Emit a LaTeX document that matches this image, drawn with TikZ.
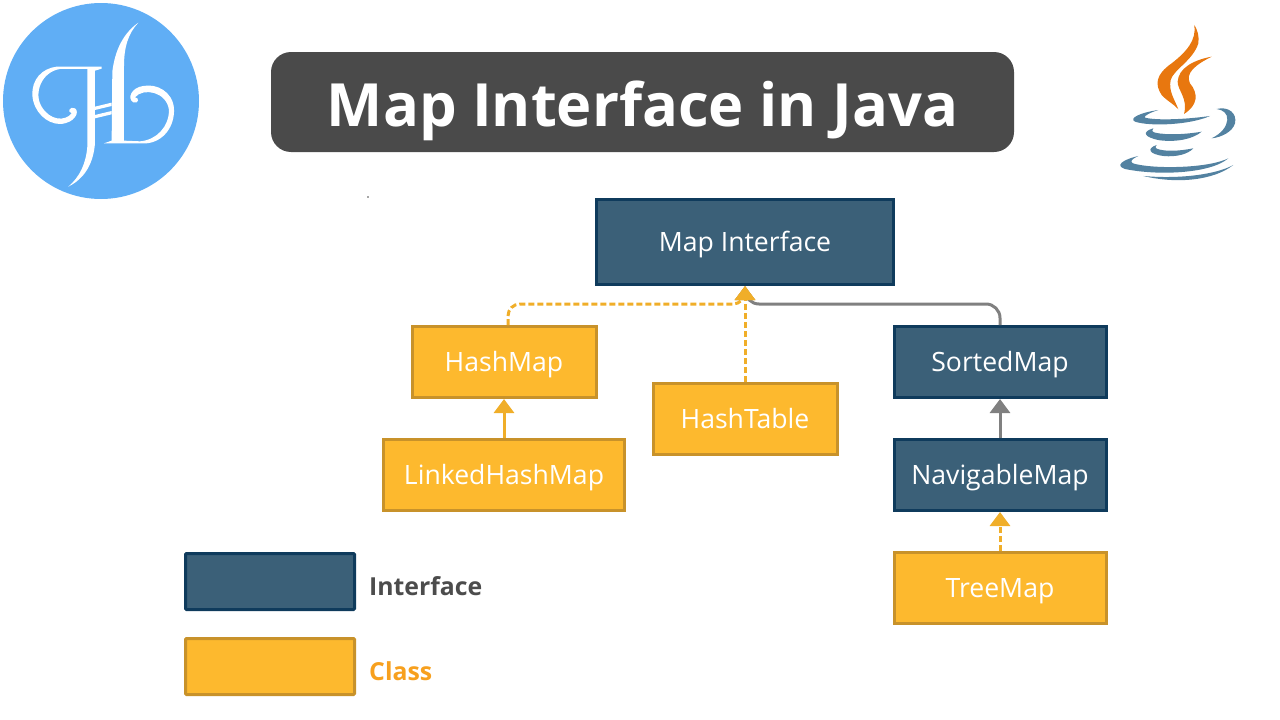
\documentclass[tikz,border=0pt]{standalone}
\usepackage{fontspec}
\setmainfont{Open Sans}
\usetikzlibrary{arrows.meta}
\definecolor{ifblue}{HTML}{3B6078}
\definecolor{ifedge}{HTML}{0F3B5C}
\definecolor{clsfill}{HTML}{FDB92E}
\definecolor{clsedge}{HTML}{C8922A}
\definecolor{clsarrow}{HTML}{F0AE29}
\definecolor{inharrow}{HTML}{808080}
\definecolor{logoblue}{HTML}{60AEF5}
\definecolor{cupblue}{HTML}{5382A1}
\definecolor{flame}{HTML}{E8770F}
\definecolor{keyorange}{HTML}{F7A01E}
\tikzset{
  ifbox/.style={draw=ifedge,fill=ifblue,line width=3pt,text=white,minimum height=70pt,text height=25pt,text depth=6pt,font=\fontsize{26.6}{28}\selectfont},
  clsbox/.style={draw=clsedge,fill=clsfill,line width=3pt,text=white,minimum height=70pt,text height=25pt,text depth=6pt,font=\fontsize{26.6}{28}\selectfont},
  keybox/.style={line width=3pt,minimum width=169pt,minimum height=56pt,rounded corners=1pt},
  implarrow/.style={draw=clsarrow,line width=3pt,dash pattern=on 6pt off 3pt,-{Triangle[length=14pt,width=20pt,fill=clsarrow]}},
  extarrow/.style={draw=clsarrow,line width=3pt,-{Triangle[length=14pt,width=20pt,fill=clsarrow]}},
  greyarrow/.style={draw=inharrow,line width=3pt,-{Triangle[length=14pt,width=20pt,fill=inharrow]}},
}
\begin{document}
\begin{tikzpicture}[x=1pt,y=-1pt]
\useasboundingbox (0,0) rectangle (1280,720);
% logo
\fill[logoblue] (101,101) circle (98);
\begin{scope}[x=0.3333pt,y=-0.3333pt,fill=white]
\fill (415,68) .. controls (370,100) and (345,150) .. (337,215) -- (335,422) -- (312,430) -- (440,430)
  .. controls (490,425) and (525,380) .. (522,325) .. controls (518,275) and (470,250) .. (430,258)
  .. controls (395,262) and (380,295) .. (400,307) .. controls (418,312) and (418,292) .. (405,292)
  .. controls (430,262) and (500,275) .. (507,330) .. controls (507,380) and (470,420) .. (420,424)
  -- (372,422) -- (372,200) .. controls (372,140) and (385,100) .. (415,68) -- cycle;
\fill (305,200) -- (170,200) .. controls (125,205) and (95,240) .. (97,285)
  .. controls (100,335) and (140,372) .. (180,372) .. controls (225,370) and (240,335) .. (225,325)
  .. controls (210,318) and (200,335) .. (215,340) .. controls (195,365) and (150,362) .. (125,320)
  .. controls (100,280) and (125,215) .. (180,207) -- (262,207) -- (262,440)
  .. controls (258,490) and (240,530) .. (205,560) .. controls (255,535) and (280,490) .. (285,430)
  -- (285,212) -- (305,206) -- cycle;
\fill (285,320) -- (335,308) -- (335,318) -- (285,330) -- cycle;
\fill (285,345) -- (335,333) -- (335,343) -- (285,355) -- cycle;
\end{scope}
% title
\node (title) [fill=black!71,rounded corners=20pt,minimum width=743pt,minimum height=100pt,inner sep=0pt,text=white,text height=58pt,text depth=10pt,font=\fontsize{59.6}{70}\selectfont\bfseries] at (642.5,102) {Map Interface in Java};
% java cup
\begin{scope}[shift={(1100,10)},x=0.3333pt,y=-0.3333pt]
\fill[flame] (283,45) .. controls (290,90) and (260,125) .. (215,160) .. controls (165,195) and (165,225) .. (185,255)
  .. controls (200,272) and (225,285) .. (235,298) .. controls (225,270) and (205,245) .. (212,210)
  .. controls (220,180) and (280,150) .. (295,100) .. controls (298,80) and (293,60) .. (283,45) -- cycle;
\fill[flame] (335,140) .. controls (280,150) and (235,175) .. (233,215) .. controls (232,240) and (265,265) .. (252,312)
  .. controls (295,285) and (295,250) .. (270,220) .. controls (255,190) and (285,165) .. (335,140) -- cycle;
\fill[cupblue] (175,300) .. controls (120,308) and (85,325) .. (105,335) .. controls (150,350) and (270,345) .. (330,318)
  .. controls (260,328) and (170,332) .. (135,323) .. controls (130,318) and (150,308) .. (175,300) -- cycle;
\fill[cupblue] (350,297) .. controls (385,288) and (412,310) .. (405,340) .. controls (398,365) and (365,382) .. (335,385)
  .. controls (365,370) and (380,350) .. (382,330) .. controls (383,310) and (370,300) .. (350,297) -- cycle;
\fill[cupblue] (160,355) .. controls (125,365) and (130,382) .. (180,391) .. controls (230,397) and (280,387) .. (305,365)
  .. controls (260,373) and (200,376) .. (165,368) .. controls (155,365) and (155,360) .. (160,355) -- cycle;
\fill[cupblue] (170,405) .. controls (140,415) and (145,432) .. (190,438) .. controls (230,442) and (265,432) .. (280,415)
  .. controls (240,423) and (195,426) .. (170,416) .. controls (165,413) and (165,410) .. (170,405) -- cycle;
\fill[cupblue] (115,438) .. controls (65,450) and (45,467) .. (75,477) .. controls (170,497) and (330,492) .. (385,445)
  .. controls (330,473) and (180,478) .. (110,463) .. controls (85,458) and (90,450) .. (115,438) -- cycle;
\fill[cupblue] (130,498) .. controls (230,522) and (340,512) .. (400,465) .. controls (350,493) and (240,508) .. (130,498) -- cycle;
\end{scope}
\fill[black!70] (368,197) circle (0.8);
% diagram
\node (mapif) [ifbox,minimum width=297pt,minimum height=85pt] at (745,242) {Map Interface};
\node (hashmap) [clsbox,minimum width=184pt,minimum height=71pt] at (504,362) {HashMap};
\node (linked) [clsbox,minimum width=241pt,minimum height=71pt] at (504,475) {LinkedHashMap};
\node (hashtable) [clsbox,minimum width=184pt,minimum height=71pt] at (745,419) {HashTable};
\node (sorted) [ifbox,minimum width=212pt,minimum height=71pt] at (1000,362) {SortedMap};
\node (navigable) [ifbox,minimum width=212pt,minimum height=71pt] at (1000,475) {NavigableMap};
\node (treemap) [clsbox,minimum width=212pt,minimum height=71pt] at (1000,588) {TreeMap};
\draw [greyarrow,rounded corners=14pt] (sorted.north) -- ++(0,-21) -| (mapif.south);
\draw [implarrow,rounded corners=12pt] ([xshift=4pt]hashmap.north) -- ++(0,-21) -| (mapif.south);
\draw [implarrow] (hashtable.north) -- (mapif.south);
\draw [extarrow] (linked.north) -- (hashmap.south);
\draw [greyarrow] (navigable.north) -- (sorted.south);
\draw [implarrow] (treemap.north) -- (navigable.south);
% legend
\node (keyif) [keybox,draw=ifedge,fill=ifblue] at (270,581.5) {};
\node (keycls) [keybox,draw=clsedge,fill=clsfill] at (270,666.5) {};
\node (labif) [anchor=west,inner sep=0pt,text=black!70,font=\fontsize{24.8}{28}\selectfont\bfseries] at (369,586) {Interface};
\node (labcls) [anchor=west,inner sep=0pt,text=keyorange,font=\fontsize{24.8}{28}\selectfont\bfseries] at (369,671) {Class};
\end{tikzpicture}
\end{document}
